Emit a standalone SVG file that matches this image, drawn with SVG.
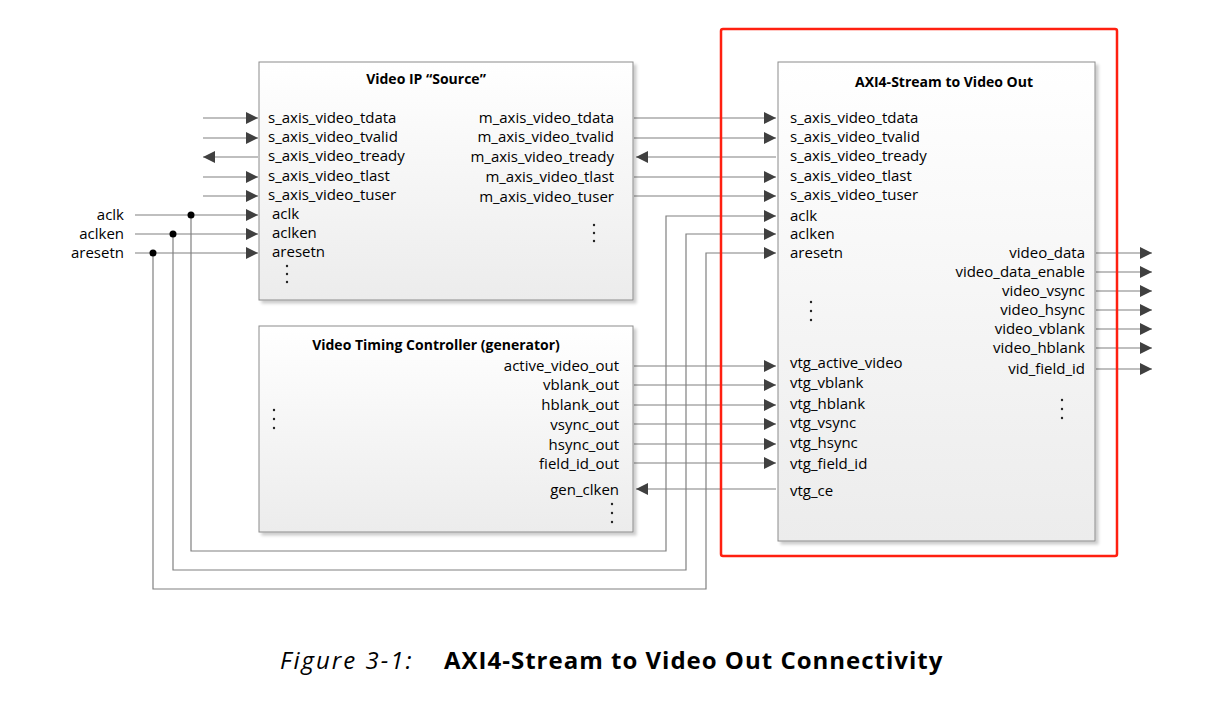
<svg xmlns="http://www.w3.org/2000/svg" width="1224" height="703" viewBox="0 0 1224 703">
<defs>
<linearGradient id="g" x1="0" y1="0" x2="0" y2="1"><stop offset="0" stop-color="#ffffff"/><stop offset="1" stop-color="#ececec"/></linearGradient>
<filter id="sh" x="-5%" y="-5%" width="110%" height="110%"><feDropShadow dx="3" dy="3" stdDeviation="1.5" flood-color="#000" flood-opacity="0.2"/></filter>
<marker id="a" viewBox="0 0 10 10" refX="10" refY="5" markerWidth="20" markerHeight="12" markerUnits="userSpaceOnUse" orient="auto"><path d="M0,0 L10,5 L0,10 z" fill="#404040"/></marker>
</defs>
<style>
text{font-family:"Open Sans","Liberation Sans",sans-serif;font-size:15px;fill:#000}
.t{font-weight:bold;font-size:14px}
.r{text-anchor:end}
.box{fill:url(#g);stroke:#8c8c8c;stroke-width:1;filter:url(#sh)}
.c line,.c polyline{stroke:#808080;stroke-width:1.2;fill:none}
.ar{marker-end:url(#a)}
.d{fill:#222}
</style>
<rect width="1224" height="703" fill="#fff"/>
<g id="connectors" class="c">
<line class="ar" x1="203" y1="118" x2="258" y2="118"/>
<line class="ar" x1="203" y1="138" x2="258" y2="138"/>
<line class="ar" x1="258" y1="157" x2="203" y2="157"/>
<line class="ar" x1="203" y1="177" x2="258" y2="177"/>
<line class="ar" x1="203" y1="196" x2="258" y2="196"/>
<line class="ar" x1="135" y1="215" x2="258" y2="215"/>
<line class="ar" x1="135" y1="234" x2="258" y2="234"/>
<line class="ar" x1="135" y1="253" x2="258" y2="253"/>
<polyline class="ar" points="191,215 191,551 666,551 666,216 776,216"/>
<polyline class="ar" points="173,234 173,570 686,570 686,234 776,234"/>
<polyline class="ar" points="153,253 153,589 706,589 706,253 776,253"/>
<line class="ar" x1="634" y1="118" x2="776" y2="118"/>
<line class="ar" x1="634" y1="138" x2="776" y2="138"/>
<line class="ar" x1="776" y1="157" x2="636" y2="157"/>
<line class="ar" x1="634" y1="177" x2="776" y2="177"/>
<line class="ar" x1="634" y1="196" x2="776" y2="196"/>
<line class="ar" x1="634" y1="366" x2="776" y2="366"/>
<line class="ar" x1="634" y1="385" x2="776" y2="385"/>
<line class="ar" x1="634" y1="405" x2="776" y2="405"/>
<line class="ar" x1="634" y1="424" x2="776" y2="424"/>
<line class="ar" x1="634" y1="444" x2="776" y2="444"/>
<line class="ar" x1="634" y1="463" x2="776" y2="463"/>
<line class="ar" x1="776" y1="489" x2="636" y2="489"/>
<line class="ar" x1="1096" y1="253" x2="1152" y2="253"/>
<line class="ar" x1="1096" y1="272" x2="1152" y2="272"/>
<line class="ar" x1="1096" y1="291" x2="1152" y2="291"/>
<line class="ar" x1="1096" y1="310" x2="1152" y2="310"/>
<line class="ar" x1="1096" y1="329" x2="1152" y2="329"/>
<line class="ar" x1="1096" y1="348" x2="1152" y2="348"/>
<line class="ar" x1="1096" y1="369" x2="1152" y2="369"/>
<circle cx="191" cy="215" r="3.5" fill="#000"/>
<circle cx="173" cy="234" r="3.5" fill="#000"/>
<circle cx="153" cy="253" r="3.5" fill="#000"/>
</g>
<g id="source">
<rect class="box" x="259" y="62" width="374" height="238"/>
<text class="t" x="426" y="84" text-anchor="middle">Video IP “Source”</text>
<text x="268" y="123">s_axis_video_tdata</text>
<text x="268" y="142">s_axis_video_tvalid</text>
<text x="268" y="161">s_axis_video_tready</text>
<text x="268" y="181">s_axis_video_tlast</text>
<text x="268" y="200">s_axis_video_tuser</text>
<text x="272" y="219">aclk</text>
<text x="272" y="238">aclken</text>
<text x="272" y="257">aresetn</text>
<circle class="d" cx="287" cy="266" r="1.2"/><circle class="d" cx="287" cy="274" r="1.2"/><circle class="d" cx="287" cy="282" r="1.2"/>
<text class="r" x="614" y="123">m_axis_video_tdata</text>
<text class="r" x="614" y="142">m_axis_video_tvalid</text>
<text class="r" x="614" y="162">m_axis_video_tready</text>
<text class="r" x="614" y="182">m_axis_video_tlast</text>
<text class="r" x="614" y="202">m_axis_video_tuser</text>
<circle class="d" cx="594" cy="225" r="1.2"/><circle class="d" cx="594" cy="233" r="1.2"/><circle class="d" cx="594" cy="241" r="1.2"/>
</g>
<g id="vtc">
<rect class="box" x="259" y="326" width="374" height="206"/>
<text class="t" x="436" y="350" text-anchor="middle">Video Timing Controller (generator)</text>
<text class="r" x="619" y="371">active_video_out</text>
<text class="r" x="619" y="390">vblank_out</text>
<text class="r" x="619" y="410">hblank_out</text>
<text class="r" x="619" y="430">vsync_out</text>
<text class="r" x="619" y="450">hsync_out</text>
<text class="r" x="619" y="469">field_id_out</text>
<text class="r" x="619" y="495">gen_clken</text>
<circle class="d" cx="612" cy="504" r="1.2"/><circle class="d" cx="612" cy="513" r="1.2"/><circle class="d" cx="612" cy="522" r="1.2"/>
<circle class="d" cx="274" cy="410" r="1.2"/><circle class="d" cx="274" cy="419" r="1.2"/><circle class="d" cx="274" cy="428" r="1.2"/>
</g>
<g id="axi2vid">
<rect class="box" x="778" y="62" width="317" height="479"/>
<text class="t" x="944" y="87" text-anchor="middle">AXI4-Stream to Video Out</text>
<text x="790" y="123">s_axis_video_tdata</text>
<text x="790" y="142">s_axis_video_tvalid</text>
<text x="790" y="161">s_axis_video_tready</text>
<text x="790" y="181">s_axis_video_tlast</text>
<text x="790" y="200">s_axis_video_tuser</text>
<text x="790" y="221">aclk</text>
<text x="790" y="239">aclken</text>
<text x="790" y="258">aresetn</text>
<circle class="d" cx="811" cy="302" r="1.2"/><circle class="d" cx="811" cy="311" r="1.2"/><circle class="d" cx="811" cy="320" r="1.2"/>
<text x="790" y="368">vtg_active_video</text>
<text x="790" y="388">vtg_vblank</text>
<text x="790" y="409">vtg_hblank</text>
<text x="790" y="428">vtg_vsync</text>
<text x="790" y="448">vtg_hsync</text>
<text x="790" y="469">vtg_field_id</text>
<text x="790" y="496">vtg_ce</text>
<text class="r" x="1085" y="258">video_data</text>
<text class="r" x="1085" y="277">video_data_enable</text>
<text class="r" x="1085" y="296">video_vsync</text>
<text class="r" x="1085" y="315">video_hsync</text>
<text class="r" x="1085" y="334">video_vblank</text>
<text class="r" x="1085" y="353">video_hblank</text>
<text class="r" x="1085" y="374">vid_field_id</text>
<circle class="d" cx="1062" cy="400" r="1.2"/><circle class="d" cx="1062" cy="409" r="1.2"/><circle class="d" cx="1062" cy="418" r="1.2"/>
</g>
<text x="124" y="220" class="r">aclk</text>
<text x="124" y="239" class="r">aclken</text>
<text x="124" y="258" class="r">aresetn</text>
<rect id="highlight" x="721" y="29" width="396" height="527" fill="none" stroke="#ff2010" stroke-width="2.5" rx="2"/>
<text x="280" y="669" style="font-size:24px;font-style:italic;letter-spacing:2px">Figure 3-1:</text>
<text x="444" y="669" style="font-size:24px;font-weight:bold;letter-spacing:1px">AXI4-Stream to Video Out Connectivity</text>
</svg>
